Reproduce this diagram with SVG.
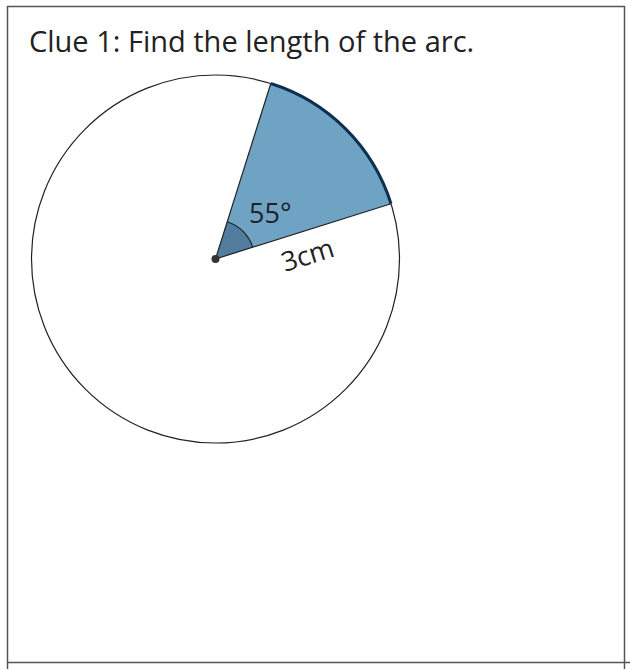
<svg xmlns="http://www.w3.org/2000/svg" width="630" height="669" viewBox="0 0 630 669">
  <style>
    .frame { stroke: #555; stroke-width: 1.5; fill: none; }
    .lbl { font-family: "Open Sans", "Noto Sans", "Liberation Sans", sans-serif; fill: #222; }
    .edge { stroke: #222; stroke-width: 1.2; fill: none; }
  </style>
  <rect width="630" height="669" fill="#fff"/>
  <g id="frame">
    <line class="frame" x1="7.5" y1="6" x2="7.5" y2="669"/>
    <line class="frame" x1="624.5" y1="6" x2="624.5" y2="669"/>
    <line class="frame" x1="7" y1="6.5" x2="625" y2="6.5"/>
    <line class="frame" x1="7" y1="662.5" x2="630" y2="662.5"/>
  </g>
  <g id="title">
    <text class="lbl" x="29" y="51.7" font-size="29">Clue 1: Find the length of the arc.</text>
  </g>
  <g id="circle">
    <circle cx="215.5" cy="259" r="184" fill="#fff" stroke="#222" stroke-width="1.2"/>
  </g>
  <g id="sector">
    <path d="M 215.5 259 L 391 203.7 A 184 184 0 0 0 270.8 83.5 Z" fill="#6fa3c4"/>
    <path d="M 215.5 259 L 252.7 247.3 A 39 39 0 0 0 227.2 221.8 Z" fill="#527d9e"/>
    <path d="M 252.7 247.3 A 39 39 0 0 0 227.2 221.8" class="edge" stroke-width="1"/>
    <path d="M 391 203.7 A 184 184 0 0 0 270.8 83.5" fill="none" stroke="#0d3050" stroke-width="3"/>
  </g>
  <g id="connectors">
    <line class="edge" x1="215.5" y1="259" x2="391" y2="203.7"/>
    <line class="edge" x1="215.5" y1="259" x2="270.8" y2="83.5"/>
  </g>
  <g id="center">
    <circle cx="215.5" cy="259" r="4" fill="#333"/>
  </g>
  <g id="labels">
    <text class="lbl" x="249" y="222.7" font-size="27">55°</text>
    <text class="lbl" x="0" y="0" font-size="27" text-anchor="middle" transform="translate(310.5 264) rotate(-17.5)">3cm</text>
  </g>
</svg>
